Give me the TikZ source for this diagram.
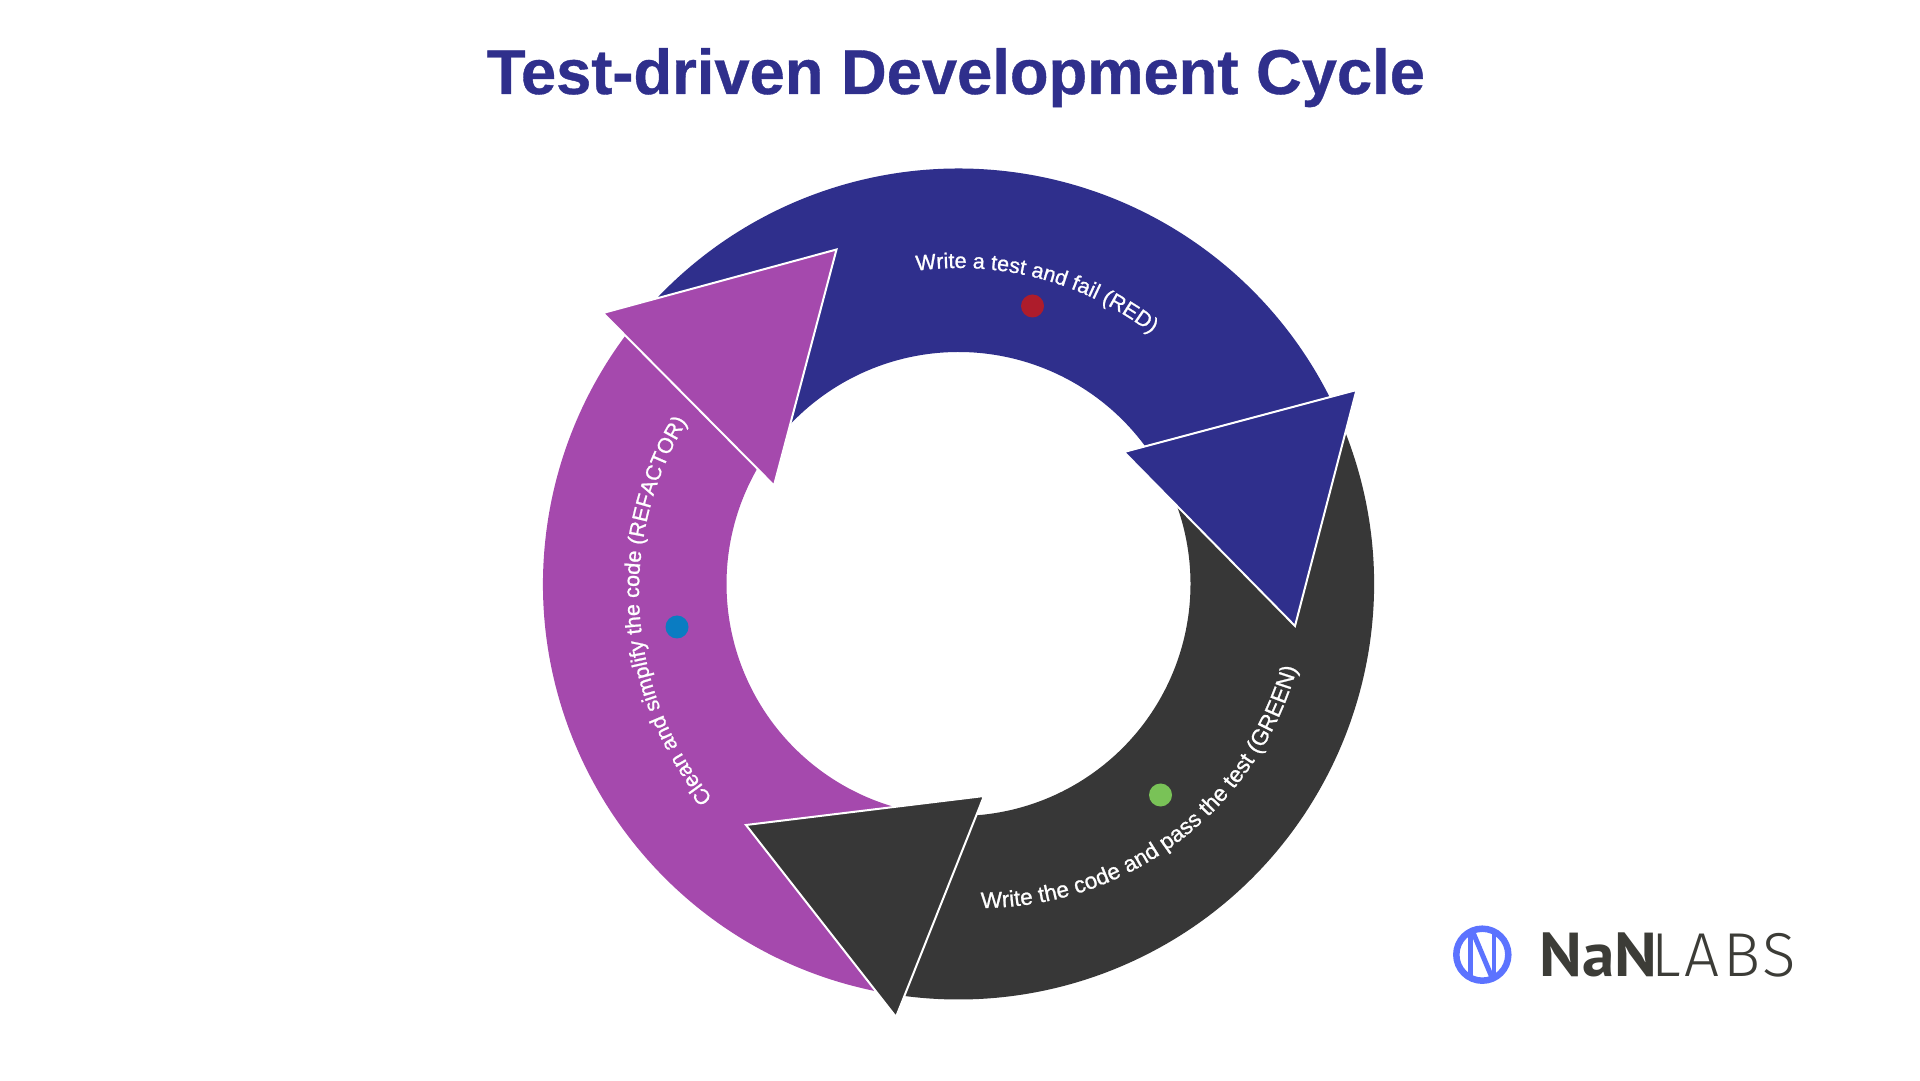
\documentclass[tikz,border=0pt]{standalone}
\usepackage{fontspec}
\setmainfont{Liberation Sans}
\newfontfamily\lblfont[FakeBold=1]{Liberation Sans}
\newfontfamily\titlefont[FakeBold=0.6]{Liberation Sans Bold}
\newfontfamily\logolight[LetterSpace=6]{Fira Sans Light}
\newfontfamily\logobold[FakeStretch=1.05]{PT Sans}
\usetikzlibrary{calc,decorations.text}
\definecolor{bandblue}{HTML}{2F2F8C}
\definecolor{bandpurple}{HTML}{A549AD}
\definecolor{banddark}{HTML}{373737}
\definecolor{dotred}{HTML}{AE1C2B}
\definecolor{dotblue}{HTML}{0A7CC2}
\definecolor{dotgreen}{HTML}{79C257}
\definecolor{logoblue}{HTML}{5C73FF}
\definecolor{logotext}{HTML}{3C3C37}
\tikzset{
  head/.style={draw=white,line width=2pt,line join=miter},
  stepdot/.style={circle,inner sep=0pt,minimum size=23pt},
  curvetext/.style={decorate,decoration={text along path,text align=center,text={#1}}},
}
\newcommand{\lbl}{\lblfont\fontsize{21.5}{26}\selectfont\color{white}}
\newcommand{\lblg}{\lblfont\fontsize{22.6}{26}\selectfont\color{white}}
\begin{document}
\begin{tikzpicture}[x=1pt,y=1pt]
\useasboundingbox (0,0) rectangle (1920,1080);
\fill[white] (0,0) rectangle (1920,1080);
\coordinate (C) at (958.5,496);
% bands
\fill[bandblue] ($(C)+(140:415.5pt)$) arc[start angle=140,end angle=25,radius=415.5pt]
  -- ($(C)+(35:232pt)$) arc[start angle=35,end angle=140,radius=232pt] -- cycle;
\fill[banddark] ($(C)+(22:415.5pt)$) arc[start angle=22,end angle=-99,radius=415.5pt]
  -- ($(C)+(-87:232pt)$) arc[start angle=-87,end angle=22,radius=232pt] -- cycle;
\fill[bandpurple] ($(C)+(261:415.5pt)$) arc[start angle=261,end angle=142,radius=415.5pt]
  -- ($(C)+(149.5:232pt)$) arc[start angle=149.5,end angle=261,radius=232pt] -- cycle;
% heads
\coordinate (pa) at (603,767); \coordinate (pb) at (836.5,830.5); \coordinate (pc) at (774,594.5);
\coordinate (ba) at (1356.5,690); \coordinate (bb) at (1124,628); \coordinate (bc) at (1295,454);
\coordinate (da) at (984,284); \coordinate (db) at (746,255); \coordinate (dc) at (896,63);
\filldraw[head,fill=bandpurple] (pa) -- (pb) -- (pc) -- cycle;
\filldraw[head,fill=bandblue] (ba) -- (bb) -- (bc) -- cycle;
\filldraw[head,fill=banddark] (da) -- (db) -- (dc) -- cycle;
% dots
\node[stepdot,fill=dotred] (dotR) at (1032.5,774) {};
\node[stepdot,fill=dotblue] (dotB) at (677,453) {};
\node[stepdot,fill=dotgreen] (dotG) at (1160.5,285) {};
% curved labels
\path[curvetext={|\lbl|Write a test and fail (RED)}] ($(C)+(98:316pt)$) arc[start angle=98,end angle=52,radius=316pt];
\coordinate (Cg) at (981,500);
\path[curvetext={|\lblg|Write the code and pass the test (GREEN)}] ($(Cg)+(-90:328pt)$) arc[start angle=-90,end angle=-15.6,radius=328pt];
\coordinate (Cp) at (965,488);
\path[curvetext={|\lbl|Clean and simplify the code (REFACTOR)}] ($(Cp)+(219.6:326pt)$) arc[start angle=219.6,end angle=148.2,radius=326pt];
% title
\node[font=\titlefont\fontsize{63.3}{70}\selectfont,text=bandblue,inner sep=0pt,anchor=base] (title) at (956,986) {Test-driven Development Cycle};
% logo
\begin{scope}
\clip (1482.3,125.3) circle[radius=27pt];
\draw[logoblue,line width=4.6pt] (1470.5,90) -- (1470.5,160);
\draw[logoblue,line width=4.6pt] (1494,90) -- (1494,160);
\draw[logoblue,line width=5pt] (1472,150) -- (1493,100);
\end{scope}
\draw[logoblue,line width=6.5pt] (1482.3,125.3) circle[radius=26pt];
\node[font=\logobold\bfseries\fontsize{62}{70}\selectfont,text=logotext,inner sep=0pt,anchor=base west] (nan) at (1539.5,103.5) {NaN};
\node[font=\logolight\fontsize{62}{70}\selectfont,text=logotext,inner sep=0pt,anchor=base west] (labs) at (1651,103.5) {LABS};
\end{tikzpicture}
\end{document}
